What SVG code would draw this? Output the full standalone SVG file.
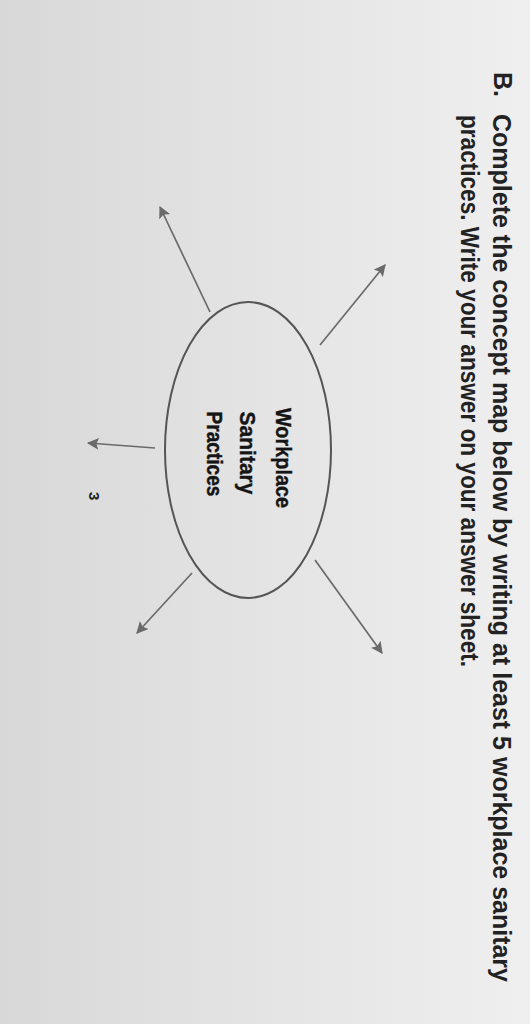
<svg xmlns="http://www.w3.org/2000/svg" width="530" height="1024" viewBox="0 0 530 1024">
  <defs>
    <linearGradient id="paper" x1="0" y1="0" x2="1" y2="0">
      <stop offset="0" stop-color="#d8d8d8"/>
      <stop offset="0.5" stop-color="#e4e4e4"/>
      <stop offset="1" stop-color="#efefef"/>
    </linearGradient>
    <marker id="arrow" viewBox="0 0 10 10" refX="9" refY="5" markerWidth="12" markerHeight="12" markerUnits="userSpaceOnUse" orient="auto">
      <path d="M0,0 L10,5 L0,10 L2,5 Z" fill="#6a6a6a"/>
    </marker>
    <style>
      .hdr { font-family: "Liberation Sans", Arial, sans-serif; font-weight: bold; font-size: 26px; fill: #222; }
      .node { font-family: "Liberation Sans", Arial, sans-serif; font-weight: bold; font-size: 22px; fill: #151515; stroke: #151515; stroke-width: 0.4; }
      .conn { stroke: #6a6a6a; stroke-width: 1.7; fill: none; marker-end: url(#arrow); }
    </style>
  </defs>
  <rect x="0" y="0" width="530" height="1024" fill="url(#paper)"/>

  <g id="instructions">
    <text class="hdr" transform="translate(494,72) rotate(90)" textLength="25" lengthAdjust="spacingAndGlyphs">B.</text>
    <text class="hdr" transform="translate(493,114) rotate(90)" textLength="868" lengthAdjust="spacingAndGlyphs">Complete the concept map below by writing at least 5 workplace sanitary</text>
    <text class="hdr" transform="translate(461,115) rotate(90)" textLength="552" lengthAdjust="spacingAndGlyphs">practices. Write your answer on your answer sheet.</text>
  </g>

  <g id="center-node">
    <ellipse cx="248" cy="450" rx="83" ry="148" fill="none" stroke="#555" stroke-width="2"/>
    <text class="node" text-anchor="middle" transform="translate(276,458) rotate(90)" textLength="100" lengthAdjust="spacingAndGlyphs">Workplace</text>
    <text class="node" text-anchor="middle" transform="translate(240,453) rotate(90)" textLength="83" lengthAdjust="spacingAndGlyphs">Sanitary</text>
    <text class="node" text-anchor="middle" transform="translate(207,454) rotate(90)" textLength="85" lengthAdjust="spacingAndGlyphs">Practices</text>
  </g>

  <g id="connectors">
    <line class="conn" x1="210" y1="312" x2="160" y2="207"/>
    <line class="conn" x1="320" y1="345" x2="385" y2="265"/>
    <line class="conn" x1="155" y1="448" x2="88" y2="443"/>
    <line class="conn" x1="192" y1="573" x2="137" y2="633"/>
    <line class="conn" x1="315" y1="560" x2="382" y2="653"/>
  </g>

  <g id="page-number">
    <text class="hdr" style="font-size:15px" transform="translate(89,492) rotate(90)">3</text>
  </g>
</svg>
